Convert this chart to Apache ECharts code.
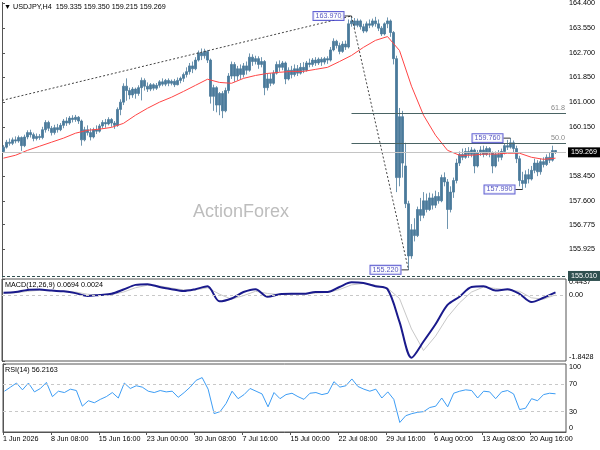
<!DOCTYPE html>
<html>
<head>
<meta charset="utf-8">
<title>USDJPY H4</title>
<script src="https://cdn.jsdelivr.net/npm/echarts@6.0.0/dist/echarts.min.js"></script>
<style>
  html, body { margin: 0; padding: 0; background: #fff; }
  #chart { width: 600px; height: 450px; }
</style>
</head>
<body>
<div id="chart"></div>
<script type="text/javascript">
	// two H4 bars per slot, 188 slots across the plot
	var slotCount = 188;

	// [open, close, low, high]
	var candles = [
		[159.30,159.45,159.25,159.52],[159.45,159.62,159.40,159.70],[159.62,159.58,159.50,159.75],[159.58,159.70,159.52,159.78],[159.70,159.66,159.58,159.82],
		[159.66,159.78,159.60,159.85],[159.78,159.50,159.32,159.82],[159.50,159.80,159.45,159.88],[159.80,159.95,159.72,160.03],[159.95,159.88,159.78,160.05],
		[159.88,159.75,159.65,159.95],[159.75,159.82,159.68,159.92],[159.82,159.78,159.70,159.90],
		[159.78,160.05,159.72,160.15],[160.05,160.30,159.95,160.38],[160.30,160.10,160.00,160.36],[160.10,159.95,159.85,160.18],[159.95,160.12,159.88,160.22],
		[160.12,160.05,159.95,160.25],[160.05,160.20,160.00,160.28],[160.20,160.35,160.10,160.42],[160.35,160.28,160.18,160.48],[160.28,160.45,160.22,160.52],
		[160.45,160.40,160.30,160.55],[160.40,160.48,160.32,160.56],[160.48,160.35,160.25,160.52],
		[160.35,159.70,159.50,160.40],[159.70,160.05,159.65,160.15],[160.05,159.95,159.85,160.20],[159.95,159.80,159.68,160.10],[159.80,160.05,159.75,160.12],
		[160.05,160.00,159.90,160.20],[160.00,160.18,159.95,160.25],[160.18,160.30,160.10,160.38],[160.30,160.25,160.12,160.42],[160.25,160.40,160.20,160.48],
		[160.40,160.28,160.15,160.45],[160.28,160.20,160.08,160.35],[160.20,160.75,160.15,160.82],
		[160.75,161.00,160.55,161.10],[161.00,161.55,160.90,161.65],[161.55,161.40,161.05,161.82],[161.40,161.25,161.10,161.50],[161.25,161.45,161.15,161.52],
		[161.45,161.30,161.12,161.50],[161.30,161.50,161.22,161.58],[161.50,161.75,161.06,161.85],[161.75,161.55,161.40,161.82],[161.55,161.45,161.35,161.68],
		[161.45,161.60,161.38,161.66],[161.60,161.48,161.40,161.65],[161.48,161.58,161.42,161.66],[161.58,161.70,161.50,161.76],[161.70,161.62,161.55,161.82],
		[161.62,161.75,161.55,161.80],[161.75,161.65,161.55,161.82],[161.65,161.72,161.58,161.78],[161.72,161.60,161.52,161.80],[161.60,161.75,161.58,161.85],
		[161.75,161.82,161.65,161.88],[161.82,161.95,161.70,162.02],[161.95,162.05,161.85,162.20],
		[162.05,162.25,161.95,162.35],[162.25,162.15,162.00,162.40],[162.15,162.45,162.10,162.55],[162.45,162.70,162.40,162.78],[162.70,162.60,162.45,162.85],
		[162.60,162.75,162.50,162.84],[162.75,162.45,162.35,162.80],[162.45,161.20,160.95,162.50],[161.20,161.50,160.70,161.60],[161.50,160.90,160.65,161.55],
		[160.90,161.30,160.55,161.35],[161.30,160.70,160.45,161.38],[160.70,161.40,160.65,161.50],[161.40,161.90,161.30,162.00],[161.90,162.30,161.80,162.40],
		[162.30,161.90,161.70,162.38],[161.90,162.15,161.75,162.25],[162.15,161.95,161.80,162.30],[161.95,162.25,161.85,162.35],[162.25,162.10,161.95,162.40],
		[162.10,162.55,162.05,162.68],[162.55,162.40,162.25,162.65],[162.40,162.50,162.30,162.60],[162.50,162.30,162.15,162.58],[162.30,162.40,162.20,162.55],
		[162.40,161.50,161.24,162.45],[161.50,161.80,161.40,162.00],[161.80,161.65,161.55,162.00],[161.65,162.00,161.60,162.10],[162.00,162.30,161.95,162.40],
		[162.30,162.20,162.05,162.44],[162.20,162.35,162.10,162.42],[162.35,161.80,161.62,162.40],[161.80,162.10,161.75,162.20],[162.10,161.95,161.82,162.25],
		[161.95,162.15,161.88,162.30],[162.15,162.00,161.90,162.28],[162.00,162.20,161.95,162.35],
		[162.20,162.10,162.00,162.38],[162.10,162.35,162.05,162.42],[162.35,162.30,162.20,162.50],[162.30,162.45,162.22,162.52],[162.45,162.35,162.25,162.55],
		[162.35,162.48,162.28,162.54],[162.48,162.38,162.25,162.55],[162.38,162.50,162.30,162.56],[162.50,162.45,162.32,162.58],[162.45,162.80,162.40,162.90],
		[162.80,163.10,162.75,163.20],[163.10,162.95,162.85,163.15],[162.95,162.75,162.65,163.05],[162.75,163.00,162.70,163.10],[163.00,162.90,162.80,163.12],
		[162.90,163.70,162.85,163.85],[163.70,163.80,163.60,163.97],[163.80,163.65,163.55,163.90],[163.65,163.80,163.58,163.88],[163.80,163.60,163.50,163.85],
		[163.60,163.45,163.38,163.70],[163.45,163.70,163.40,163.78],[163.70,163.65,163.55,163.85],[163.65,163.80,163.58,163.88],[163.80,163.70,163.60,163.94],
		[163.70,163.55,163.45,163.85],[163.55,163.35,163.28,163.62],[163.35,163.70,163.30,163.75],[163.70,163.80,163.55,163.92],[163.80,163.40,163.25,163.85],
		[163.40,162.50,162.30,163.45],[162.50,158.40,157.90,162.60],[158.40,160.50,158.10,160.80],[160.50,158.90,158.40,160.70],[158.80,157.50,157.35,159.60],
		[157.50,155.70,155.22,157.60],
		[155.70,156.60,155.60,156.80],[156.60,156.40,156.20,157.00],[156.40,157.30,156.35,157.40],[157.30,157.10,156.90,157.70],[157.10,157.60,157.00,157.90],
		[157.60,157.30,157.20,157.85],[157.30,157.70,157.25,157.88],[157.70,157.45,157.30,157.85],[157.45,157.75,157.35,157.95],[157.75,157.60,157.50,157.90],
		[157.60,158.40,157.55,158.50],[158.40,158.25,158.10,158.58],[158.25,157.30,156.63,158.35],[157.30,157.90,157.20,158.10],[157.90,158.30,157.70,158.40],
		[158.30,158.90,158.20,159.05],[158.90,159.20,158.80,159.30],
		[159.20,159.10,159.00,159.40],[159.10,159.30,159.05,159.42],[159.30,159.20,159.08,159.45],[159.20,159.35,159.10,159.45],[159.35,158.80,158.55,159.40],
		[158.80,159.25,158.75,159.35],[159.25,159.35,159.15,159.48],[159.35,159.20,159.10,159.50],[159.20,159.40,159.15,159.48],[159.40,159.25,159.10,159.45],
		[159.25,158.80,158.55,159.30],[158.80,159.20,158.75,159.30],[159.20,159.10,158.95,159.35],[159.10,159.30,159.00,159.40],
		[159.30,159.50,159.20,159.58],[159.50,159.45,159.35,159.70],[159.45,159.60,159.40,159.76],[159.60,159.40,159.25,159.68],[159.40,159.05,158.90,159.50],
		[159.05,158.30,158.10,159.15],
		[158.30,158.20,157.99,158.60],[158.20,158.50,158.05,158.65],[158.50,158.35,158.20,158.70],[158.35,158.65,158.30,158.80],[158.65,158.90,158.55,159.05],
		[158.90,158.60,158.45,159.00],[158.60,158.95,158.50,159.05],[158.95,158.85,158.75,159.10],[158.85,159.10,158.80,159.20],[159.10,159.00,158.90,159.25],
		[159.00,159.335,158.95,159.50],[159.335,159.269,159.215,159.350]
	];

	// moving average, one value every 4 slots
	var maLine = [159.07, 159.17, 159.34, 159.48, 159.62, 159.76, 159.93, 160.03, 160.07, 160.13,
		160.27, 160.55, 160.79, 161.00, 161.17, 161.37, 161.58, 161.79, 161.68, 161.65,
		161.82, 161.92, 161.99, 162.03, 162.06, 162.06, 162.13, 162.20, 162.40, 162.61,
		162.89, 163.13, 163.26, 162.78, 161.55, 160.55, 159.86, 159.34, 159.17, 159.17,
		159.21, 159.21, 159.24, 159.24, 159.10, 159.03, 159.07];
	var maStep = 4;

	// MACD(12,26,9), every 4 slots
	var macdMain = [0.06, 0.08, 0.14, 0.15, 0.12, 0.10, 0.05, -0.03, 0.00, 0.03,
		0.15, 0.28, 0.30, 0.22, 0.16, 0.11, 0.16, 0.24, -0.18, -0.10,
		0.08, 0.16, -0.05, 0.02, 0.03, 0.03, 0.08, 0.08, 0.22, 0.35,
		0.33, 0.24, 0.16, -0.75, -1.75, -1.30, -0.82, -0.28, -0.05, 0.22,
		0.24, 0.12, 0.16, 0.03, -0.20, -0.08, 0.07];
	var macdSignal = [0.04, 0.06, 0.10, 0.13, 0.13, 0.11, 0.08, 0.02, -0.01, 0.01,
		0.08, 0.20, 0.27, 0.25, 0.19, 0.14, 0.14, 0.20, 0.02, -0.12,
		-0.02, 0.10, 0.04, 0.01, 0.02, 0.03, 0.05, 0.07, 0.15, 0.28,
		0.32, 0.27, 0.19, -0.10, -0.95, -1.55, -1.15, -0.62, -0.22, 0.08,
		0.22, 0.18, 0.14, 0.10, -0.08, -0.12, 0.00];
	var macdStep = 4;

	// RSI(14), every 2 slots
	var rsiLine = [60, 66, 72, 62, 72, 59, 64, 73, 52, 60,
		58, 63, 61, 38, 46, 43, 48, 52, 58, 50,
		72, 64, 68, 66, 60, 58, 61, 59, 60, 51,
		58, 66, 76, 80, 63, 27, 30, 42, 60, 49,
		55, 64, 60, 56, 37, 58, 49, 55, 57, 52,
		48, 57, 58, 55, 57, 74, 66, 68, 78, 67,
		63, 60, 63, 50, 59, 48, 14, 24, 27, 29,
		30, 36, 38, 50, 37, 57, 60, 62, 61, 50,
		60, 59, 49, 59, 61, 56, 33, 35, 49, 46,
		55, 57, 56.2];
	var rsiStep = 2;

	var priceTicks = [155.925, 156.775, 157.6, 158.45, 160.15, 161.0, 161.85, 162.7, 163.55, 164.4];
	var macdTicks = [-1.8428, 0, 0.4437];
	var macdTickText = ['-1.8428', '0.00', '0.4437'];
	var rsiTicks = [0, 30, 70, 100];
	var rsiLevels = [70, 30];
	var dateLabels = ['1 Jun 2026', '8 Jun 08:00', '15 Jun 16:00', '23 Jun 00:00', '30 Jun 08:00', '7 Jul 16:00',
		'15 Jul 00:00', '22 Jul 08:00', '29 Jul 16:00', '6 Aug 00:00', '13 Aug 08:00', '20 Aug 16:00'];
	var dateStep = 16;

	var lastPrice = 159.269;
	var levelPrice = 155.010;
	var fibStart = 116.5;
	var fibLevels = [['61.8', 160.628], ['50.0', 159.595]];
	// [slot position, price]
	var swingPoints = [[116.5, 163.970], [169.5, 159.760], [173.5, 157.990], [135.5, 155.220]];
	var trendLines = [
		[[0, 161.06], [116.5, 163.97]],
		[[116.5, 163.97], [135.5, 155.22]]
	];

	var priceMin = 154.974, priceMax = 164.434;
	var barColor = '#4a7a9a';
	var font = 'Liberation Sans';

	function toPoints(arr, step) {
		return arr.map(function (v, k) { return [k * step + 0.5, v]; });
	}

	var slotCats = [];
	for (var i = 0; i < slotCount; i++) slotCats.push(String(i));
	var dateTicks = dateLabels.map(function (t, i) { return i * dateStep; });

	var labelStyle = { fontFamily: font, fontSize: 7.2, color: '#000' };

	var trendSeries = trendLines.map(function (seg) {
		return {
			type: 'line', xAxisIndex: 1, yAxisIndex: 0, data: seg,
			symbol: 'none', silent: true, z: 4,
			lineStyle: { color: '#444', width: 1, type: [2, 2] }
		};
	});

	var myChart = echarts.init(document.getElementById('chart'));
	var option = {
		animation: false,
		backgroundColor: '#fff',
		grid: [
			{ left: 2, top: 2, width: 564, height: 275 },
			{ left: 2, top: 279, width: 564, height: 82, show: true, borderColor: '#555', borderWidth: 1 },
			{ left: 2, top: 364, width: 564, height: 68, show: true, borderColor: '#555', borderWidth: 1 }
		],
		xAxis: [
			{ type: 'category', gridIndex: 0, data: slotCats, boundaryGap: true, show: false },
			{ type: 'value', gridIndex: 0, min: 0, max: slotCount, show: false },
			{ type: 'value', gridIndex: 1, min: 0, max: slotCount, show: false },
			{
				type: 'value', gridIndex: 2, min: 0, max: slotCount,
				splitLine: { show: false },
				axisLine: { show: true, lineStyle: { color: '#555' } },
				axisTick: { show: true, length: 3, customValues: dateTicks, lineStyle: { color: '#555' } },
				axisLabel: Object.assign({
					customValues: dateTicks, align: 'left', margin: 4,
					formatter: function (v) { return dateLabels[Math.round(v / dateStep)]; }
				}, labelStyle)
			}
		],
		yAxis: [
			{
				type: 'value', gridIndex: 0, position: 'right', min: priceMin, max: priceMax, scale: true,
				splitLine: { show: false },
				axisLine: { show: true, lineStyle: { color: '#555' } },
				axisTick: { show: true, length: 3, customValues: priceTicks, lineStyle: { color: '#555' } },
				axisLabel: Object.assign({
					customValues: priceTicks, margin: 3,
					formatter: function (v) { return v.toFixed(3); }
				}, labelStyle)
			},
			{
				type: 'value', gridIndex: 0, position: 'left', min: priceMin, max: priceMax, scale: true,
				splitLine: { show: false }, axisTick: { show: false }, axisLabel: { show: false },
				axisLine: { show: true, lineStyle: { color: '#555' } }
			},
			{
				type: 'value', gridIndex: 1, position: 'right', min: macdTicks[0], max: macdTicks[2],
				splitLine: { show: false },
				axisLine: { show: true, lineStyle: { color: '#555' } },
				axisTick: { show: true, length: 3, customValues: macdTicks, lineStyle: { color: '#555' } },
				axisLabel: Object.assign({
					customValues: macdTicks, margin: 3,
					verticalAlignMaxLabel: 'top', verticalAlignMinLabel: 'bottom',
					formatter: function (v) { return macdTickText[macdTicks.indexOf(v)]; }
				}, labelStyle)
			},
			{
				type: 'value', gridIndex: 2, position: 'right', min: 0, max: 100,
				splitLine: { show: false },
				axisLine: { show: true, lineStyle: { color: '#555' } },
				axisTick: { show: true, length: 3, customValues: rsiTicks, lineStyle: { color: '#555' } },
				axisLabel: Object.assign({
					customValues: rsiTicks, margin: 3,
					verticalAlignMaxLabel: 'top', verticalAlignMinLabel: 'bottom',
					formatter: function (v) { return String(v); }
				}, labelStyle)
			}
		],
		graphic: [
			{ type: 'text', left: 193, top: 203, silent: true,
				style: { text: 'ActionForex', fill: '#bdbdbd', font: '18px "Liberation Sans"' } },
			{ type: 'text', left: 4, top: 4, silent: true,
				style: { text: '\u25BC USDJPY,H4  159.335 159.350 159.215 159.269', fill: '#000', font: '7.2px "Liberation Sans"' } },
			{ type: 'text', left: 5, top: 282, silent: true,
				style: { text: 'MACD(12,26,9) 0.0694 0.0024', fill: '#000', font: '7.2px "Liberation Sans"' } },
			{ type: 'text', left: 5, top: 367, silent: true,
				style: { text: 'RSI(14) 56.2163', fill: '#000', font: '7.2px "Liberation Sans"' } }
		],
		series: [
			{
				type: 'candlestick', xAxisIndex: 0, yAxisIndex: 0, data: candles,
				barWidth: 1.8, clip: false, z: 3,
				itemStyle: { color: barColor, color0: barColor, borderColor: barColor, borderColor0: barColor, borderWidth: 0.8 },
				markLine: {
					symbol: ['none', 'none'], silent: true, animation: false,
					data: [
						{ yAxis: lastPrice, lineStyle: { color: '#c4c4c4', type: 'solid', width: 1 },
							label: { position: 'end', distance: 2, formatter: lastPrice.toFixed(3), color: '#fff',
								backgroundColor: '#000', padding: [2, 3, 1, 3], fontFamily: font, fontSize: 7.2 } },
						{ yAxis: levelPrice, lineStyle: { color: '#2f4f4f', type: [3, 2], width: 1 },
							label: { position: 'end', distance: 2, formatter: levelPrice.toFixed(3), color: '#fff',
								backgroundColor: '#2f4f4f', padding: [2, 3, 1, 3], fontFamily: font, fontSize: 7.2 } }
					]
				}
			},
			{
				type: 'line', xAxisIndex: 1, yAxisIndex: 0, data: toPoints(maLine, maStep),
				symbol: 'none', silent: true, z: 4,
				lineStyle: { color: '#ff4545', width: 1 },
				markLine: {
					symbol: ['none', 'none'], silent: true, animation: false,
					lineStyle: { color: '#4a6464', type: 'solid', width: 1 },
					label: { position: 'insideEndTop', distance: 1, color: '#888', fontFamily: font, fontSize: 7.2 },
					data: fibLevels.map(function (f) {
						return [
							{ coord: [fibStart, f[1]], label: { formatter: f[0] } },
							{ coord: [slotCount, f[1]] }
						];
					})
				}
			}
		].concat(trendSeries).concat([
			{
				type: 'scatter', xAxisIndex: 1, yAxisIndex: 0, data: swingPoints,
				symbol: 'rect', symbolSize: [7, 1], symbolOffset: [-3.5, 0], silent: true, z: 6,
				itemStyle: { color: '#000' },
				label: {
					show: true, position: 'left', distance: 1,
					formatter: function (p) { return p.value[1].toFixed(3); },
					color: '#2b2bb0', backgroundColor: '#fff', borderColor: '#3b3bc8', borderWidth: 1,
					padding: [1, 2, 0, 2], fontFamily: font, fontSize: 7.2
				}
			},
			{
				type: 'line', xAxisIndex: 2, yAxisIndex: 2, data: toPoints(macdSignal, macdStep),
				symbol: 'none', silent: true, z: 3,
				lineStyle: { color: '#c8c8c8', width: 1 }
			},
			{
				type: 'line', xAxisIndex: 2, yAxisIndex: 2, data: toPoints(macdMain, macdStep),
				symbol: 'none', silent: true, z: 4, smooth: 0.3,
				lineStyle: { color: '#1a1a8c', width: 2 },
				markLine: {
					symbol: ['none', 'none'], silent: true, animation: false, label: { show: false },
					lineStyle: { color: '#c8c8c8', type: [3, 3], width: 1 },
					data: [{ yAxis: 0 }]
				}
			},
			{
				type: 'line', xAxisIndex: 3, yAxisIndex: 3, data: toPoints(rsiLine, rsiStep),
				symbol: 'none', silent: true, z: 4,
				lineStyle: { color: '#3d9df5', width: 1 },
				markLine: {
					symbol: ['none', 'none'], silent: true, animation: false, label: { show: false },
					lineStyle: { color: '#c8c8c8', type: [3, 3], width: 1 },
					data: rsiLevels.map(function (v) { return { yAxis: v }; })
				}
			}
		])
	};
	myChart.setOption(option);
</script>
</body>
</html>
